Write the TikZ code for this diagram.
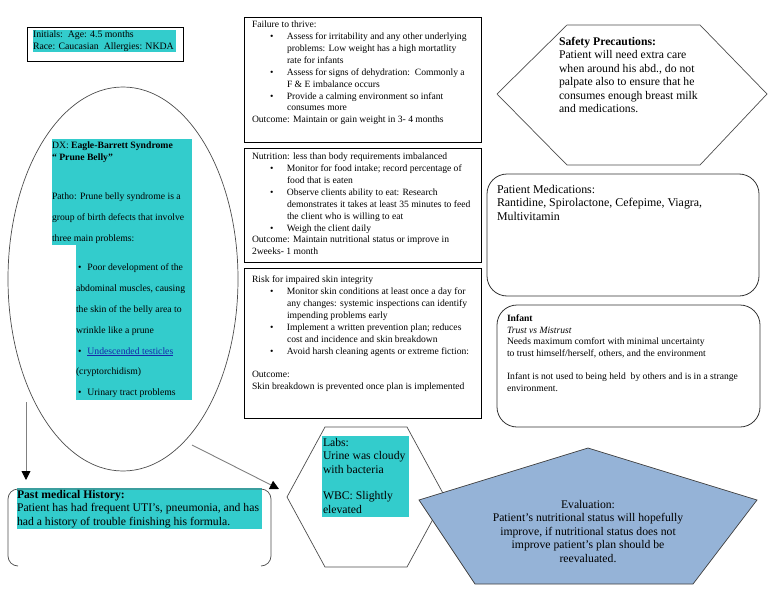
\documentclass[tikz,border=0pt]{standalone}
\usepackage{fontspec}
\setmainfont{Liberation Serif}
\usetikzlibrary{shapes.geometric,arrows.meta}
\definecolor{hlcyan}{RGB}{51,204,204}
\definecolor{evalblue}{RGB}{149,179,215}
\definecolor{linkblue}{RGB}{20,40,170}
\newcommand\planbullet{\hspace*{18pt}\textbullet\hspace*{13.5pt}}
\newcommand\planindent{\hspace*{35pt}}
\newcommand\probbullet{\hspace*{2pt}\textbullet\hspace*{6pt}}
\newcommand\smalltext{\fontsize{9.6}{11.9}\selectfont}
\newcommand\bigtext{\fontsize{11.7}{13.5}\selectfont}

\begin{document}
\begin{tikzpicture}[x=1pt,y=-1pt,
  every node/.style={inner sep=0pt,outer sep=0pt},
  planbox/.style={draw=black,line width=0.8pt,anchor=north west},
  roundbox/.style={draw=black!80,line width=0.8pt,rounded corners=20pt,anchor=north west},
  shapeline/.style={draw=black!70,line width=0.7pt},
  hilite/.style={fill=hlcyan},
  note/.style={anchor=north west,align=left,font=\smalltext},
  bignote/.style={anchor=north west,align=left,font=\bigtext},
  linkarrow/.style={draw=black!50,line width=0.9pt,-{Triangle[black,length=9pt,width=9pt]}}
]
\useasboundingbox (0,0) rectangle (768,594);

\node[planbox,minimum width=156pt,minimum height=34pt] (info) at (27,27) {};
\fill[hilite] (33,30) rectangle (176,52);
\node[note,font=\fontsize{9.8}{12}\selectfont] (infotext) at (33,31) {Initials:\ \ Age: 4.5 months\\Race: Caucasian\ \ Allergies: NKDA};

\node[ellipse,shapeline,minimum width=230pt,minimum height=384pt] (diag) at (123,279) {};
\fill[hilite] (52,139) rectangle (192,245);
\fill[hilite] (76,245) rectangle (192,400);
\node[note,font=\fontsize{9.7}{11.5}\selectfont] (dxtitle) at (52,142) {DX: \textbf{Eagle-Barrett Syndrome}\\\textbf{`` Prune Belly''}};
\node[note,font=\fontsize{9.7}{20.7}\selectfont] (patho) at (52,193) {Patho: Prune belly syndrome is a\\group of birth defects that involve\\three main problems:};
\node[note,font=\fontsize{9.7}{20.8}\selectfont] (problems) at (76,264) {\probbullet Poor development of the\\abdominal muscles, causing\\the skin of the belly area to\\wrinkle like a prune\\\probbullet\textcolor{linkblue}{\underline{Undescended testicles}}\\(cryptorchidism)\\\probbullet Urinary tract problems};

\coordinate (diagleft) at (26,402);
\coordinate (historytop) at (26,480);
\draw[linkarrow] (diagleft) -- (historytop);
\coordinate (diagright) at (192,445);
\coordinate (labsleft) at (279,489);
\draw[linkarrow] (diagright) -- (labsleft);

\fill[hilite] (17,488) rectangle (262,529);
\draw[shapeline,rounded corners=10pt] (18,566) -- (8,566) -- (8,489) -- (271,489) -- (271,566) -- (261,566);
\node[bignote] (history) at (17,490) {\textbf{Past medical History:}\\Patient has had frequent UTI's, pneumonia, and has\\had a history of trouble finishing his formula.};

\node[planbox,minimum width=237pt,minimum height=125pt] (thrive) at (244,17) {};
\node[note] (thrivetext) at (252,21) {Failure to thrive:\\\planbullet Assess for irritability and any other underlying\\\planindent problems: Low weight has a high mortatlity\\\planindent rate for infants\\\planbullet Assess for signs of dehydration:\ \ Commonly a\\\planindent F \& E imbalance occurs\\\planbullet Provide a calming environment so infant\\\planindent consumes more\\Outcome: Maintain or gain weight in 3- 4 months};

\node[planbox,minimum width=237pt,minimum height=114pt] (nutrition) at (244,148) {};
\node[note] (nutritiontext) at (252,153) {Nutrition: less than body requirements imbalanced\\\planbullet Monitor for food intake; record percentage of\\\planindent food that is eaten\\\planbullet Observe clients ability to eat: Research\\\planindent demonstrates it takes at least 35 minutes to feed\\\planindent the client who is willing to eat\\\planbullet Weigh the client daily\\Outcome: Maintain nutritional status or improve in\\2weeks- 1 month};

\node[planbox,minimum width=237pt,minimum height=150pt] (skin) at (244,268) {};
\node[note] (skintext) at (252,276) {Risk for impaired skin integrity\\\planbullet Monitor skin conditions at least once a day for\\\planindent any changes: systemic inspections can identify\\\planindent impending problems early\\\planbullet Implement a written prevention plan; reduces\\\planindent cost and incidence and skin breakdown\\\planbullet Avoid harsh cleaning agents or extreme fiction:\\[11.9pt]Outcome:\\Skin breakdown is prevented once plan is implemented};

\draw[shapeline] (567,25) -- (700,25) -- (767,94) -- (700,165) -- (567,165) -- (497,94) -- cycle;
\node[bignote] (safety) at (559,37) {\textbf{Safety Precautions:}\\Patient will need extra care\\when around his abd., do not\\palpate also to ensure that he\\consumes enough breast milk\\and medications.};

\node[roundbox,minimum width=272pt,minimum height=122pt] (meds) at (487,174) {};
\node[bignote,font=\fontsize{11.9}{13.5}\selectfont] (medstext) at (497,185) {Patient Medications:\\Rantidine, Spirolactone, Cefepime, Viagra,\\Multivitamin};

\node[roundbox,minimum width=263pt,minimum height=122pt] (infant) at (497,305) {};
\node[note,font=\fontsize{9.6}{11.6}\selectfont] (infanttext) at (507,315) {\textbf{Infant}\\\textit{Trust vs Mistrust}\\Needs maximum comfort with minimal uncertainty\\to trust himself/herself, others, and the environment\\[11.6pt]Infant is not used to being held\ \ by others and is in a strange\\environment.};

\draw[shapeline] (325,427) -- (407,427) -- (445,497) -- (407,567) -- (325,567) -- (287,497) -- cycle;
\fill[hilite] (322,436) rectangle (409,517);
\node[bignote] (labs) at (323,438) {Labs:\\Urine was cloudy\\with bacteria\\[13.3pt]WBC: Slightly\\elevated};

\filldraw[fill=evalblue,draw=black!75,line width=0.7pt] (588,448) -- (757,500) -- (693,584) -- (475,584) -- (419,500) -- cycle;
\node[bignote,align=center,anchor=north] (evaluation) at (588,500) {Evaluation:\\Patient's nutritional status will hopefully\\improve, if nutritional status does not\\improve patient's plan should be\\reevaluated.};
\end{tikzpicture}
\end{document}
